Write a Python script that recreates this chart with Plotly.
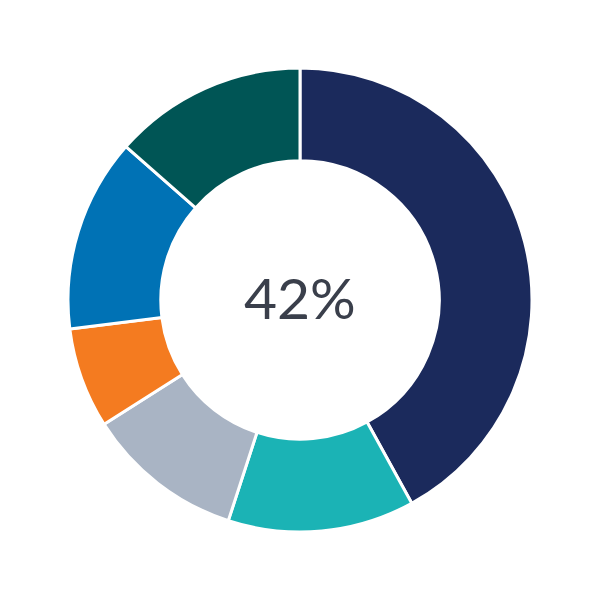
import plotly.graph_objects as go

labels = ['A', 'B', 'C', 'D', 'E', 'F']
values = [42, 13, 11, 7, 13.5, 13.5]
colors = ['#1b2a5c', '#1bb3b5', '#a9b4c4', '#f47b20', '#0072b5', '#005555']
center_text = '42%'

fig = go.Figure(go.Pie(
    labels=labels,
    values=values,
    hole=0.6,
    sort=False,
    direction='clockwise',
    rotation=0,
    marker=dict(colors=colors, line=dict(color='white', width=3)),
    textinfo='none',
    hoverinfo='label+percent',
    showlegend=False,
))

fig.add_annotation(
    text=center_text, x=0.5, y=0.5, xref='paper', yref='paper',
    showarrow=False, yshift=3,
    font=dict(family='Lato', size=57, color='#3a3f4b'),
)

# page body has an 8px margin, so shift the pie up/left to sit at 300,300
fig.update_layout(
    width=600, height=600,
    margin=dict(t=60, b=76, l=60, r=76),
    paper_bgcolor='white',
    plot_bgcolor='white',
)

fig.write_html('out.html')
